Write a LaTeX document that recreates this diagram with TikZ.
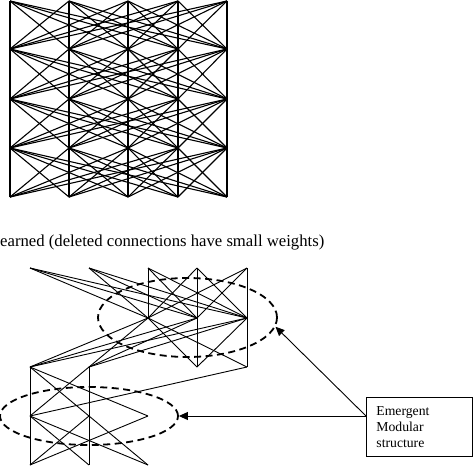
\documentclass[tikz,border=0pt]{standalone}
\usepackage{fontspec}
\setmainfont{Liberation Serif}
\usetikzlibrary{arrows.meta,shapes.geometric}
\begin{document}
\begin{tikzpicture}[x=1pt,y=-1pt,
  topedge/.style={line width=1.1pt},
  botedge/.style={line width=0.9pt},
  module/.style={ellipse, draw, inner sep=0pt, line width=1.8pt, dash pattern=on 7pt off 4.5pt},
  pointer/.style={line width=0.9pt, -{Triangle[length=9pt,width=8pt]}},
  labelbox/.style={draw, line width=0.9pt, anchor=north west, minimum width=106pt, minimum height=59pt,
    inner xsep=10pt, align=left, text width=86pt, font=\fontsize{13.7}{16}\selectfont}]
\useasboundingbox (0,0) rectangle (474,466);
% top fully connected network
\foreach \c/\x in {1/10,2/69,3/128,4/178,5/227}
  \foreach \r/\y in {1/1,2/49,3/99,4/148,5/197}
    \coordinate (t\r\c) at (\x,\y);
\foreach \r/\s in {1/2,2/3,3/4,4/5}
  \foreach \a in {1,...,5}
    \foreach \b in {1,...,5}
      \draw[topedge] (t\r\a) -- (t\s\b);
\node[anchor=base west, inner sep=0pt, font=\fontsize{16.7}{20}\selectfont] (caption) at (0,246)
  {earned (deleted connections have small weights)};
% bottom pruned network
\foreach \c/\x in {1/30,2/89,3/148,4/197,5/247}
  \foreach \r/\y in {1/268,2/318,3/367,4/416,5/465}
    \coordinate (b\r\c) at (\x,\y);
\foreach \p/\q in {11/23,11/24,11/25,12/23,12/24,12/25,
                   13/23,13/24,13/25,14/23,14/24,14/25,15/23,15/24,15/25,
                   23/31,24/31,25/31,23/32,24/32,25/32,
                   23/34,23/35,24/34,25/34,25/35,
                   31/41,31/42,31/43,32/41,32/42,35/41,
                   41/51,41/52,41/53,42/51,42/52,42/53,43/51}
  \draw[botedge] (b\p) -- (b\q);
% modules
\node[module, minimum width=179pt, minimum height=79pt] (upmod) at (187.5,317.5) {};
\node[module, minimum width=178pt, minimum height=58pt] (lowmod) at (89,416) {};
% label box and pointers
\node[labelbox] (box) at (366,397) {Emergent\\Modular\\structure};
\coordinate (src) at (box.west |- lowmod.east);
\draw[pointer] (src) -- (lowmod.east);
\draw[pointer] (src) -- (upmod.-6);
\end{tikzpicture}
\end{document}
